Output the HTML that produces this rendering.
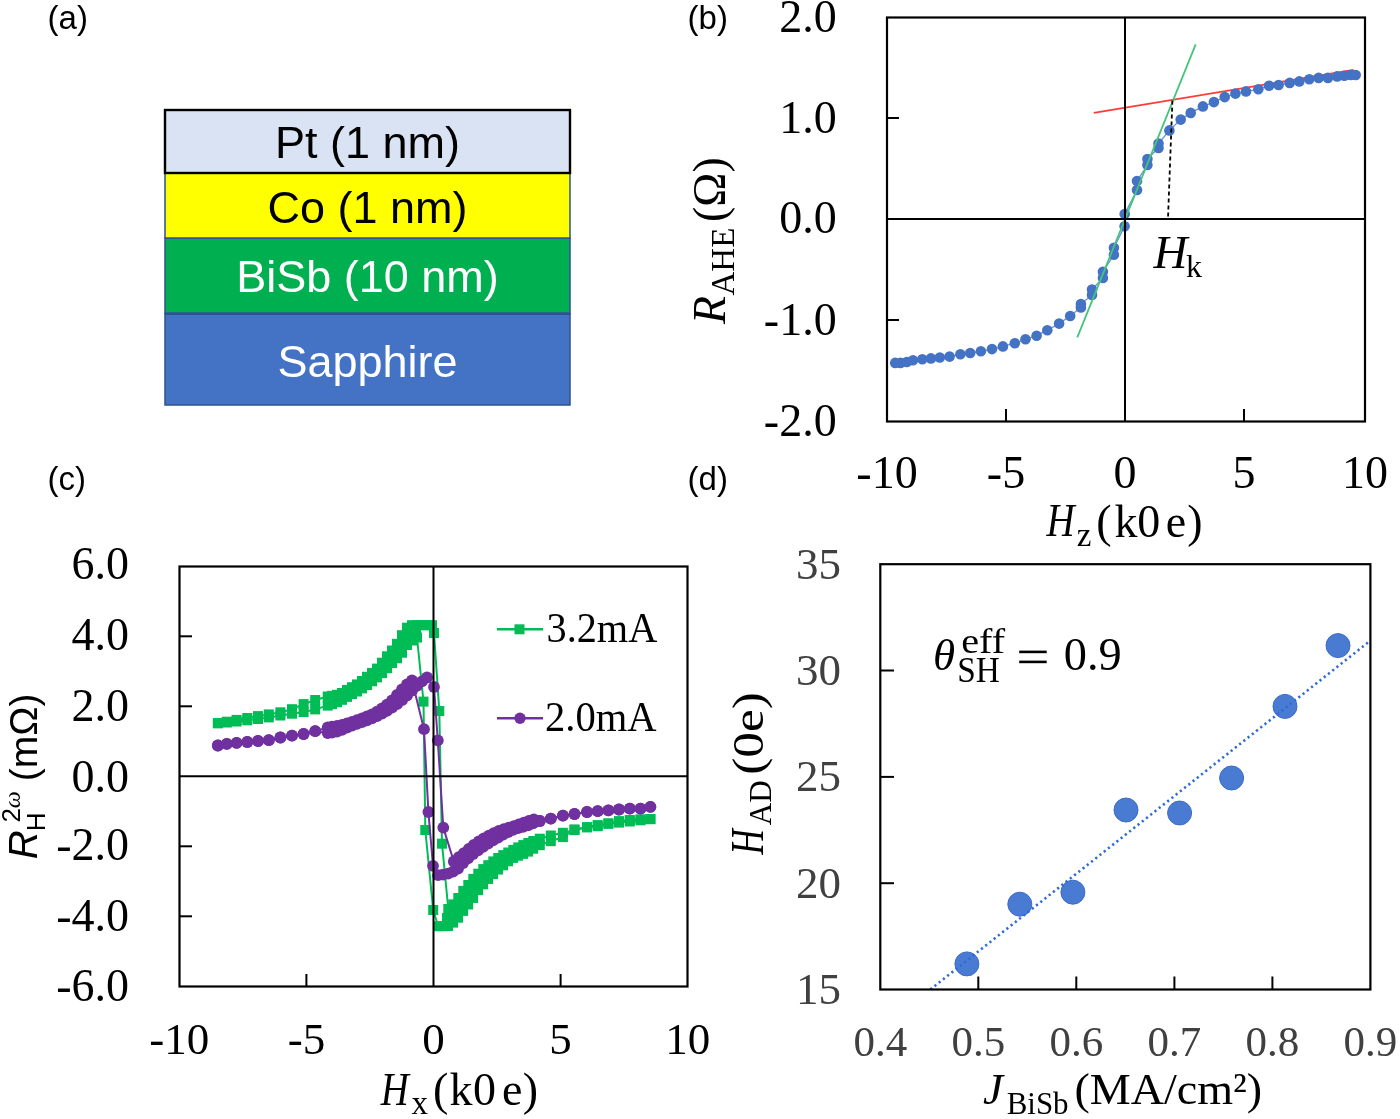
<!DOCTYPE html><html><head><meta charset="utf-8"><style>html,body{margin:0;padding:0;background:#fff;}svg{display:block;will-change:transform;font-family:"Liberation Serif",serif;}.ss{font-family:"Liberation Sans",sans-serif;}.sf{font-family:"Liberation Serif",serif;}</style></head><body>
<svg width="1400" height="1119" viewBox="0 0 1400 1119">
<rect width="1400" height="1119" fill="#fff"/>
<text class="ss" x="47.6" y="28.7" font-size="33" fill="#000">(a)</text>
<text class="ss" x="687.6" y="28.7" font-size="33" fill="#000">(b)</text>
<text class="ss" x="47.6" y="490.3" font-size="33" fill="#000">(c)</text>
<text class="ss" x="687.6" y="490.3" font-size="33" fill="#000">(d)</text>
<g>
<rect x="165" y="314" width="405" height="91" fill="#4472C4" stroke="#2F528F" stroke-width="1.5"/>
<rect x="165" y="238" width="405" height="76" fill="#00B050" stroke="#2F528F" stroke-width="1.5"/>
<rect x="165" y="173" width="405" height="65" fill="#FFFF00" stroke="#2F528F" stroke-width="1.5"/>
<line x1="165" y1="313.5" x2="570" y2="313.5" stroke="#2F528F" stroke-width="2.6"/>
<rect x="165" y="110" width="405" height="63" fill="#DAE3F3" stroke="#000" stroke-width="2.4"/>
<g class="ss" font-size="45" text-anchor="middle">
<text x="367.5" y="158.2" fill="#000">Pt (1 nm)</text>
<text x="367.5" y="222.6" fill="#000">Co (1 nm)</text>
<text x="367.5" y="291.5" fill="#fff">BiSb (10 nm)</text>
<text x="367.5" y="376.6" fill="#fff">Sapphire</text>
</g></g>
<g>
<line x1="1093.8" y1="112.8" x2="1353.6" y2="70" stroke="#FF3B3B" stroke-width="1.8"/>
<polyline points="895.2,362.9 900.5,362.9 906.8,362 913,360.2 922.3,359.3 930.9,358.4 939.8,357.5 949.6,356.6 960.4,354.3 970.2,353 980.9,351.3 992,349.1 1002.9,346.4 1014.8,343.2 1025.5,339.3 1036.6,335.7 1047.3,330.2 1059.1,323.6 1070.2,316 1080.9,307.5 1080.9,304 1092,295 1092,289.6 1102.9,278 1102.9,271.8 1113.9,254.8 1113.9,247.7 1124.6,226.3 1124.7,214 1137,190 1137,181 1147.4,165 1147.4,159 1158.5,148 1158.5,143.5 1169.4,130.4 1180.7,119.6 1190.7,112.9 1202.9,106.4 1213.9,102.1 1224.7,97.1 1235.4,93.6 1246,91.4 1258.3,89.3 1269,85.7 1278.6,85 1289.7,82.9 1299.3,81.4 1309.3,79.3 1318.6,77.9 1327.9,77.9 1337.1,76.4 1344.3,75.7 1350.7,75 1355.7,75" fill="none" stroke="#6b8fd6" stroke-width="1.3"/>
<circle cx="895.2" cy="362.9" r="5.3" fill="#4472C4"/>
<circle cx="900.5" cy="362.9" r="5.3" fill="#4472C4"/>
<circle cx="906.8" cy="362" r="5.3" fill="#4472C4"/>
<circle cx="913" cy="360.2" r="5.3" fill="#4472C4"/>
<circle cx="922.3" cy="359.3" r="5.3" fill="#4472C4"/>
<circle cx="930.9" cy="358.4" r="5.3" fill="#4472C4"/>
<circle cx="939.8" cy="357.5" r="5.3" fill="#4472C4"/>
<circle cx="949.6" cy="356.6" r="5.3" fill="#4472C4"/>
<circle cx="960.4" cy="354.3" r="5.3" fill="#4472C4"/>
<circle cx="970.2" cy="353" r="5.3" fill="#4472C4"/>
<circle cx="980.9" cy="351.3" r="5.3" fill="#4472C4"/>
<circle cx="992" cy="349.1" r="5.3" fill="#4472C4"/>
<circle cx="1002.9" cy="346.4" r="5.3" fill="#4472C4"/>
<circle cx="1014.8" cy="343.2" r="5.3" fill="#4472C4"/>
<circle cx="1025.5" cy="339.3" r="5.3" fill="#4472C4"/>
<circle cx="1036.6" cy="335.7" r="5.3" fill="#4472C4"/>
<circle cx="1047.3" cy="330.2" r="5.3" fill="#4472C4"/>
<circle cx="1059.1" cy="323.6" r="5.3" fill="#4472C4"/>
<circle cx="1070.2" cy="316" r="5.3" fill="#4472C4"/>
<circle cx="1080.9" cy="307.5" r="5.3" fill="#4472C4"/>
<circle cx="1080.9" cy="304" r="5.3" fill="#4472C4"/>
<circle cx="1092" cy="295" r="5.3" fill="#4472C4"/>
<circle cx="1092" cy="289.6" r="5.3" fill="#4472C4"/>
<circle cx="1102.9" cy="278" r="5.3" fill="#4472C4"/>
<circle cx="1102.9" cy="271.8" r="5.3" fill="#4472C4"/>
<circle cx="1113.9" cy="254.8" r="5.3" fill="#4472C4"/>
<circle cx="1113.9" cy="247.7" r="5.3" fill="#4472C4"/>
<circle cx="1124.6" cy="226.3" r="5.3" fill="#4472C4"/>
<circle cx="1124.7" cy="214" r="5.3" fill="#4472C4"/>
<circle cx="1137" cy="190" r="5.3" fill="#4472C4"/>
<circle cx="1137" cy="181" r="5.3" fill="#4472C4"/>
<circle cx="1147.4" cy="165" r="5.3" fill="#4472C4"/>
<circle cx="1147.4" cy="159" r="5.3" fill="#4472C4"/>
<circle cx="1158.5" cy="148" r="5.3" fill="#4472C4"/>
<circle cx="1158.5" cy="143.5" r="5.3" fill="#4472C4"/>
<circle cx="1169.4" cy="130.4" r="5.3" fill="#4472C4"/>
<circle cx="1180.7" cy="119.6" r="5.3" fill="#4472C4"/>
<circle cx="1190.7" cy="112.9" r="5.3" fill="#4472C4"/>
<circle cx="1202.9" cy="106.4" r="5.3" fill="#4472C4"/>
<circle cx="1213.9" cy="102.1" r="5.3" fill="#4472C4"/>
<circle cx="1224.7" cy="97.1" r="5.3" fill="#4472C4"/>
<circle cx="1235.4" cy="93.6" r="5.3" fill="#4472C4"/>
<circle cx="1246" cy="91.4" r="5.3" fill="#4472C4"/>
<circle cx="1258.3" cy="89.3" r="5.3" fill="#4472C4"/>
<circle cx="1269" cy="85.7" r="5.3" fill="#4472C4"/>
<circle cx="1278.6" cy="85" r="5.3" fill="#4472C4"/>
<circle cx="1289.7" cy="82.9" r="5.3" fill="#4472C4"/>
<circle cx="1299.3" cy="81.4" r="5.3" fill="#4472C4"/>
<circle cx="1309.3" cy="79.3" r="5.3" fill="#4472C4"/>
<circle cx="1318.6" cy="77.9" r="5.3" fill="#4472C4"/>
<circle cx="1327.9" cy="77.9" r="5.3" fill="#4472C4"/>
<circle cx="1337.1" cy="76.4" r="5.3" fill="#4472C4"/>
<circle cx="1344.3" cy="75.7" r="5.3" fill="#4472C4"/>
<circle cx="1350.7" cy="75" r="5.3" fill="#4472C4"/>
<circle cx="1355.7" cy="75" r="5.3" fill="#4472C4"/>
<line x1="1077.3" y1="337.3" x2="1195.7" y2="44.3" stroke="#44C57A" stroke-width="1.8"/>
<line x1="1172.4" y1="100.6" x2="1168" y2="218.6" stroke="#000" stroke-width="1.8" stroke-dasharray="4,3"/>
<rect x="887" y="17.5" width="478" height="404" fill="none" stroke="#000" stroke-width="2.2"/>
<line x1="1125" y1="17.5" x2="1125" y2="421.5" stroke="#000" stroke-width="2"/>
<line x1="887" y1="219" x2="1365" y2="219" stroke="#000" stroke-width="2"/>
<line x1="887" y1="118" x2="899" y2="118" stroke="#000" stroke-width="2"/>
<line x1="887" y1="320" x2="899" y2="320" stroke="#000" stroke-width="2"/>
<line x1="1006" y1="421.5" x2="1006" y2="409" stroke="#000" stroke-width="2"/>
<line x1="1244" y1="421.5" x2="1244" y2="409" stroke="#000" stroke-width="2"/>
<g class="sf" font-size="46" fill="#000">
<text x="836.7" y="31.7" text-anchor="end">2.0</text>
<text x="836.7" y="133.2" text-anchor="end">1.0</text>
<text x="836.7" y="233" text-anchor="end">0.0</text>
<text x="836.7" y="334.8" text-anchor="end">-1.0</text>
<text x="836.7" y="436" text-anchor="end">-2.0</text>
<text x="887" y="488" text-anchor="middle">-10</text>
<text x="1006" y="488" text-anchor="middle">-5</text>
<text x="1125" y="488" text-anchor="middle">0</text>
<text x="1244" y="488" text-anchor="middle">5</text>
<text x="1365" y="488" text-anchor="middle">10</text>
<text x="1046.4" y="536.0" font-size="46" font-style="italic" textLength="28.1" lengthAdjust="spacingAndGlyphs">H</text>
<text x="1076.7" y="545.5" font-size="33">z</text>
<text x="1096.3" y="536.5" font-size="46">(</text>
<text x="1114.4" y="536.5" font-size="46">k</text>
<text x="1137.2" y="536.5" font-size="46">0</text>
<text x="1165.7" y="536.5" font-size="46">e</text>
<text x="1187.3" y="536.5" font-size="46">)</text>
<text x="1153.4" y="267.6" font-style="italic" font-size="47">H</text>
<text x="1186" y="277.3" font-size="32">k</text>
<g transform="translate(725,324) rotate(-90)">
<text x="0" y="0" font-style="italic">R</text>
<text x="28.5" y="9" font-size="33">AHE</text>
<text x="102" y="0">(&#937;)</text>
</g>
</g></g>
<g>
<polyline points="217.9,723.2 226.8,721.7 236.6,719.9 247.3,718 258,716.1 268.8,714.4 280.4,712.3 292,709.2 303.6,704.1 315.2,700 327.7,696.5 332,695.8 337,694.8 342,693 347,689.9 352,687.2 357,684.4 362,681 367,676.8 372,672.9 377,668.6 382,662.7 387,656.3 392,650.5 397,643.8 402,635.2 407,627.7 412,625.2 417,625.2 422,625.2 427,625.2 432,625.2 434,633 439.3,711 442,843.7 448.3,909 453.3,904.4 458.3,898 463.3,890.9 468.3,885 473.3,878.9 478.3,873.7 483.3,869.1 488.3,865.2 493.3,861.4 498.3,858 503.3,855.1 508.3,852.5 513.3,849.9 518.3,847.4 523.3,845.1 528.3,843 533.3,841 539.8,838.7 550.8,835.5 562.9,832.8 574.5,830.1 587,827.2 597.7,825.1 608.4,823.8 619,822.6 629.8,821.5 640.5,820.3 650.4,819.2" fill="none" stroke="#00BC55" stroke-width="2" stroke-linejoin="round"/>
<polyline points="217.9,723.2 226.8,722.5 236.6,721.5 247.3,720.3 258,719 268.8,717.4 280.4,715.5 292,713.7 303.6,712 315.2,709.4 327.7,705.6 332,704.1 337,702.2 342,699.8 347,696.9 352,694.1 357,691.5 362,688.4 367,685 372,681.3 377,677.4 382,673.1 387,668.2 392,663.1 397,658.3 402,652.7 407,645 412,640.5 417,637.5 423.5,701.6 425.3,830 433.2,910 438.1,926.2 443.1,926.2 448.1,926 453.1,922.6 458.1,917.7 463.1,910.9 468.1,904.5 473.1,898 478.1,890.1 483.1,884.3 488.1,879 493.1,874.1 498.1,869.5 503.1,865.3 508.1,861.3 513.1,857.9 518.1,855.7 523.1,853.9 528.1,851.6 533.1,848.7 539.8,845.2 550.8,841.2 562.9,837.1 574.5,829.4 587,827.3 597.7,826.2 608.4,823.3 619,821.1 629.8,820 640.5,819.3 650.4,819" fill="none" stroke="#00BC55" stroke-width="2" stroke-linejoin="round"/>
<rect x="212.9" y="718.2" width="10" height="10" fill="#00BC55"/>
<rect x="221.8" y="716.7" width="10" height="10" fill="#00BC55"/>
<rect x="231.6" y="714.9" width="10" height="10" fill="#00BC55"/>
<rect x="242.3" y="713" width="10" height="10" fill="#00BC55"/>
<rect x="253" y="711.1" width="10" height="10" fill="#00BC55"/>
<rect x="263.8" y="709.4" width="10" height="10" fill="#00BC55"/>
<rect x="275.4" y="707.3" width="10" height="10" fill="#00BC55"/>
<rect x="287" y="704.2" width="10" height="10" fill="#00BC55"/>
<rect x="298.6" y="699.1" width="10" height="10" fill="#00BC55"/>
<rect x="310.2" y="695" width="10" height="10" fill="#00BC55"/>
<rect x="322.7" y="691.5" width="10" height="10" fill="#00BC55"/>
<rect x="327" y="690.8" width="10" height="10" fill="#00BC55"/>
<rect x="332" y="689.8" width="10" height="10" fill="#00BC55"/>
<rect x="337" y="688" width="10" height="10" fill="#00BC55"/>
<rect x="342" y="684.9" width="10" height="10" fill="#00BC55"/>
<rect x="347" y="682.2" width="10" height="10" fill="#00BC55"/>
<rect x="352" y="679.4" width="10" height="10" fill="#00BC55"/>
<rect x="357" y="676" width="10" height="10" fill="#00BC55"/>
<rect x="362" y="671.8" width="10" height="10" fill="#00BC55"/>
<rect x="367" y="667.9" width="10" height="10" fill="#00BC55"/>
<rect x="372" y="663.6" width="10" height="10" fill="#00BC55"/>
<rect x="377" y="657.7" width="10" height="10" fill="#00BC55"/>
<rect x="382" y="651.3" width="10" height="10" fill="#00BC55"/>
<rect x="387" y="645.5" width="10" height="10" fill="#00BC55"/>
<rect x="392" y="638.8" width="10" height="10" fill="#00BC55"/>
<rect x="397" y="630.2" width="10" height="10" fill="#00BC55"/>
<rect x="402" y="622.7" width="10" height="10" fill="#00BC55"/>
<rect x="407" y="620.2" width="10" height="10" fill="#00BC55"/>
<rect x="412" y="620.2" width="10" height="10" fill="#00BC55"/>
<rect x="417" y="620.2" width="10" height="10" fill="#00BC55"/>
<rect x="422" y="620.2" width="10" height="10" fill="#00BC55"/>
<rect x="427" y="620.2" width="10" height="10" fill="#00BC55"/>
<rect x="429" y="628" width="10" height="10" fill="#00BC55"/>
<rect x="434.3" y="706" width="10" height="10" fill="#00BC55"/>
<rect x="437" y="838.7" width="10" height="10" fill="#00BC55"/>
<rect x="443.3" y="904" width="10" height="10" fill="#00BC55"/>
<rect x="448.3" y="899.4" width="10" height="10" fill="#00BC55"/>
<rect x="453.3" y="893" width="10" height="10" fill="#00BC55"/>
<rect x="458.3" y="885.9" width="10" height="10" fill="#00BC55"/>
<rect x="463.3" y="880" width="10" height="10" fill="#00BC55"/>
<rect x="468.3" y="873.9" width="10" height="10" fill="#00BC55"/>
<rect x="473.3" y="868.7" width="10" height="10" fill="#00BC55"/>
<rect x="478.3" y="864.1" width="10" height="10" fill="#00BC55"/>
<rect x="483.3" y="860.2" width="10" height="10" fill="#00BC55"/>
<rect x="488.3" y="856.4" width="10" height="10" fill="#00BC55"/>
<rect x="493.3" y="853" width="10" height="10" fill="#00BC55"/>
<rect x="498.3" y="850.1" width="10" height="10" fill="#00BC55"/>
<rect x="503.3" y="847.5" width="10" height="10" fill="#00BC55"/>
<rect x="508.3" y="844.9" width="10" height="10" fill="#00BC55"/>
<rect x="513.3" y="842.4" width="10" height="10" fill="#00BC55"/>
<rect x="518.3" y="840.1" width="10" height="10" fill="#00BC55"/>
<rect x="523.3" y="838" width="10" height="10" fill="#00BC55"/>
<rect x="528.3" y="836" width="10" height="10" fill="#00BC55"/>
<rect x="534.8" y="833.7" width="10" height="10" fill="#00BC55"/>
<rect x="545.8" y="830.5" width="10" height="10" fill="#00BC55"/>
<rect x="557.9" y="827.8" width="10" height="10" fill="#00BC55"/>
<rect x="569.5" y="825.1" width="10" height="10" fill="#00BC55"/>
<rect x="582" y="822.2" width="10" height="10" fill="#00BC55"/>
<rect x="592.7" y="820.1" width="10" height="10" fill="#00BC55"/>
<rect x="603.4" y="818.8" width="10" height="10" fill="#00BC55"/>
<rect x="614" y="817.6" width="10" height="10" fill="#00BC55"/>
<rect x="624.8" y="816.5" width="10" height="10" fill="#00BC55"/>
<rect x="635.5" y="815.3" width="10" height="10" fill="#00BC55"/>
<rect x="645.4" y="814.2" width="10" height="10" fill="#00BC55"/>
<rect x="212.9" y="718.2" width="10" height="10" fill="#00BC55"/>
<rect x="221.8" y="717.5" width="10" height="10" fill="#00BC55"/>
<rect x="231.6" y="716.5" width="10" height="10" fill="#00BC55"/>
<rect x="242.3" y="715.3" width="10" height="10" fill="#00BC55"/>
<rect x="253" y="714" width="10" height="10" fill="#00BC55"/>
<rect x="263.8" y="712.4" width="10" height="10" fill="#00BC55"/>
<rect x="275.4" y="710.5" width="10" height="10" fill="#00BC55"/>
<rect x="287" y="708.7" width="10" height="10" fill="#00BC55"/>
<rect x="298.6" y="707" width="10" height="10" fill="#00BC55"/>
<rect x="310.2" y="704.4" width="10" height="10" fill="#00BC55"/>
<rect x="322.7" y="700.6" width="10" height="10" fill="#00BC55"/>
<rect x="327" y="699.1" width="10" height="10" fill="#00BC55"/>
<rect x="332" y="697.2" width="10" height="10" fill="#00BC55"/>
<rect x="337" y="694.8" width="10" height="10" fill="#00BC55"/>
<rect x="342" y="691.9" width="10" height="10" fill="#00BC55"/>
<rect x="347" y="689.1" width="10" height="10" fill="#00BC55"/>
<rect x="352" y="686.5" width="10" height="10" fill="#00BC55"/>
<rect x="357" y="683.4" width="10" height="10" fill="#00BC55"/>
<rect x="362" y="680" width="10" height="10" fill="#00BC55"/>
<rect x="367" y="676.3" width="10" height="10" fill="#00BC55"/>
<rect x="372" y="672.4" width="10" height="10" fill="#00BC55"/>
<rect x="377" y="668.1" width="10" height="10" fill="#00BC55"/>
<rect x="382" y="663.2" width="10" height="10" fill="#00BC55"/>
<rect x="387" y="658.1" width="10" height="10" fill="#00BC55"/>
<rect x="392" y="653.3" width="10" height="10" fill="#00BC55"/>
<rect x="397" y="647.7" width="10" height="10" fill="#00BC55"/>
<rect x="402" y="640" width="10" height="10" fill="#00BC55"/>
<rect x="407" y="635.5" width="10" height="10" fill="#00BC55"/>
<rect x="412" y="632.5" width="10" height="10" fill="#00BC55"/>
<rect x="418.5" y="696.6" width="10" height="10" fill="#00BC55"/>
<rect x="420.3" y="825" width="10" height="10" fill="#00BC55"/>
<rect x="428.2" y="905" width="10" height="10" fill="#00BC55"/>
<rect x="433.1" y="921.2" width="10" height="10" fill="#00BC55"/>
<rect x="438.1" y="921.2" width="10" height="10" fill="#00BC55"/>
<rect x="443.1" y="921" width="10" height="10" fill="#00BC55"/>
<rect x="448.1" y="917.6" width="10" height="10" fill="#00BC55"/>
<rect x="453.1" y="912.7" width="10" height="10" fill="#00BC55"/>
<rect x="458.1" y="905.9" width="10" height="10" fill="#00BC55"/>
<rect x="463.1" y="899.5" width="10" height="10" fill="#00BC55"/>
<rect x="468.1" y="893" width="10" height="10" fill="#00BC55"/>
<rect x="473.1" y="885.1" width="10" height="10" fill="#00BC55"/>
<rect x="478.1" y="879.3" width="10" height="10" fill="#00BC55"/>
<rect x="483.1" y="874" width="10" height="10" fill="#00BC55"/>
<rect x="488.1" y="869.1" width="10" height="10" fill="#00BC55"/>
<rect x="493.1" y="864.5" width="10" height="10" fill="#00BC55"/>
<rect x="498.1" y="860.3" width="10" height="10" fill="#00BC55"/>
<rect x="503.1" y="856.3" width="10" height="10" fill="#00BC55"/>
<rect x="508.1" y="852.9" width="10" height="10" fill="#00BC55"/>
<rect x="513.1" y="850.7" width="10" height="10" fill="#00BC55"/>
<rect x="518.1" y="848.9" width="10" height="10" fill="#00BC55"/>
<rect x="523.1" y="846.6" width="10" height="10" fill="#00BC55"/>
<rect x="528.1" y="843.7" width="10" height="10" fill="#00BC55"/>
<rect x="534.8" y="840.2" width="10" height="10" fill="#00BC55"/>
<rect x="545.8" y="836.2" width="10" height="10" fill="#00BC55"/>
<rect x="557.9" y="832.1" width="10" height="10" fill="#00BC55"/>
<rect x="569.5" y="824.4" width="10" height="10" fill="#00BC55"/>
<rect x="582" y="822.3" width="10" height="10" fill="#00BC55"/>
<rect x="592.7" y="821.2" width="10" height="10" fill="#00BC55"/>
<rect x="603.4" y="818.3" width="10" height="10" fill="#00BC55"/>
<rect x="614" y="816.1" width="10" height="10" fill="#00BC55"/>
<rect x="624.8" y="815" width="10" height="10" fill="#00BC55"/>
<rect x="635.5" y="814.3" width="10" height="10" fill="#00BC55"/>
<rect x="645.4" y="814" width="10" height="10" fill="#00BC55"/>
<rect x="381" y="658.4" width="10" height="10" fill="#00BC55"/>
<rect x="386" y="652.9" width="10" height="10" fill="#00BC55"/>
<rect x="391" y="647.3" width="10" height="10" fill="#00BC55"/>
<rect x="396" y="640.5" width="10" height="10" fill="#00BC55"/>
<rect x="401" y="632.8" width="10" height="10" fill="#00BC55"/>
<rect x="406" y="628.2" width="10" height="10" fill="#00BC55"/>
<rect x="411" y="626.6" width="10" height="10" fill="#00BC55"/>
<rect x="442" y="913" width="10" height="10" fill="#00BC55"/>
<rect x="447" y="909.7" width="10" height="10" fill="#00BC55"/>
<rect x="452" y="904.4" width="10" height="10" fill="#00BC55"/>
<rect x="457" y="897.6" width="10" height="10" fill="#00BC55"/>
<rect x="462" y="891" width="10" height="10" fill="#00BC55"/>
<rect x="467" y="885.1" width="10" height="10" fill="#00BC55"/>
<rect x="472" y="878.3" width="10" height="10" fill="#00BC55"/>
<rect x="477" y="872.9" width="10" height="10" fill="#00BC55"/>
<rect x="482" y="868.2" width="10" height="10" fill="#00BC55"/>
<rect x="487" y="863.8" width="10" height="10" fill="#00BC55"/>
<rect x="492" y="859.7" width="10" height="10" fill="#00BC55"/>
<polyline points="217.9,745.5 226.8,743.8 236.6,742.9 247.3,742 258,741 268.8,740.2 280.4,737.5 292,735.7 303.6,734 315.2,731.2 327.7,727.5 332,726.7 337,726 342,724.9 347,723.5 352,721.9 357,720.2 362,718.4 367,716.5 372,714.3 377,711.6 382,708.3 387,704.6 392,700.3 397,694.9 402,689.3 407,684.5 412,680.5 424,729.2 428.4,812 433,865.8 438.1,875.2 443.1,874.7 448.1,873.7 453.1,871.7 458.1,868.5 463.1,863.1 468.1,858.3 473.1,854.1 478.1,850.3 483.1,846.8 488.1,843.5 493.1,840.4 498.1,837.5 503.1,834.7 508.1,832.1 513.1,829.8 518.1,828.2 523.1,826.9 528.1,825.3 533.1,823.3 539.8,821 550.8,818.6 562.9,815.7 574.5,814 587,812 597.7,811.2 608.4,810.4 619,809.5 629.8,808.6 640.5,808.6 650.4,806.8" fill="none" stroke="#7030A0" stroke-width="2" stroke-linejoin="round"/>
<polyline points="217.9,745.5 226.8,743.8 236.6,742.9 247.3,742 258,741 268.8,740.2 280.4,737.5 292,735.7 303.6,734 315.2,731.2 327.7,733 332,732.6 337,731.5 342,729.9 347,727.7 352,725.6 357,723.9 362,722.2 367,720.4 372,718.4 377,716.1 382,713.5 387,710.8 392,707.7 397,704.2 402,700.2 407,695.6 412,690.7 417,685.8 422,681.3 427,677.5 434,687 437.8,740.4 443.3,827.6 453.8,861.5 458.8,857.2 463.8,853.1 468.8,848.8 473.8,844.8 478.8,841.4 483.8,838.4 488.8,835.7 493.8,833.2 498.8,830.9 503.8,829.1 508.8,827.6 513.8,826.2 518.8,824.5 523.8,822.7 528.8,821 533.8,819.5 539.8,821 550.8,818.6 562.9,815.7 574.5,814 587,812 597.7,811.2 608.4,810.4 619,809.5 629.8,808.6 640.5,808.6 650.4,806.8" fill="none" stroke="#7030A0" stroke-width="2" stroke-linejoin="round"/>
<circle cx="217.9" cy="745.5" r="5.9" fill="#7030A0"/>
<circle cx="226.8" cy="743.8" r="5.9" fill="#7030A0"/>
<circle cx="236.6" cy="742.9" r="5.9" fill="#7030A0"/>
<circle cx="247.3" cy="742" r="5.9" fill="#7030A0"/>
<circle cx="258" cy="741" r="5.9" fill="#7030A0"/>
<circle cx="268.8" cy="740.2" r="5.9" fill="#7030A0"/>
<circle cx="280.4" cy="737.5" r="5.9" fill="#7030A0"/>
<circle cx="292" cy="735.7" r="5.9" fill="#7030A0"/>
<circle cx="303.6" cy="734" r="5.9" fill="#7030A0"/>
<circle cx="315.2" cy="731.2" r="5.9" fill="#7030A0"/>
<circle cx="327.7" cy="727.5" r="5.9" fill="#7030A0"/>
<circle cx="332" cy="726.7" r="5.9" fill="#7030A0"/>
<circle cx="337" cy="726" r="5.9" fill="#7030A0"/>
<circle cx="342" cy="724.9" r="5.9" fill="#7030A0"/>
<circle cx="347" cy="723.5" r="5.9" fill="#7030A0"/>
<circle cx="352" cy="721.9" r="5.9" fill="#7030A0"/>
<circle cx="357" cy="720.2" r="5.9" fill="#7030A0"/>
<circle cx="362" cy="718.4" r="5.9" fill="#7030A0"/>
<circle cx="367" cy="716.5" r="5.9" fill="#7030A0"/>
<circle cx="372" cy="714.3" r="5.9" fill="#7030A0"/>
<circle cx="377" cy="711.6" r="5.9" fill="#7030A0"/>
<circle cx="382" cy="708.3" r="5.9" fill="#7030A0"/>
<circle cx="387" cy="704.6" r="5.9" fill="#7030A0"/>
<circle cx="392" cy="700.3" r="5.9" fill="#7030A0"/>
<circle cx="397" cy="694.9" r="5.9" fill="#7030A0"/>
<circle cx="402" cy="689.3" r="5.9" fill="#7030A0"/>
<circle cx="407" cy="684.5" r="5.9" fill="#7030A0"/>
<circle cx="412" cy="680.5" r="5.9" fill="#7030A0"/>
<circle cx="424" cy="729.2" r="5.9" fill="#7030A0"/>
<circle cx="428.4" cy="812" r="5.9" fill="#7030A0"/>
<circle cx="433" cy="865.8" r="5.9" fill="#7030A0"/>
<circle cx="438.1" cy="875.2" r="5.9" fill="#7030A0"/>
<circle cx="443.1" cy="874.7" r="5.9" fill="#7030A0"/>
<circle cx="448.1" cy="873.7" r="5.9" fill="#7030A0"/>
<circle cx="453.1" cy="871.7" r="5.9" fill="#7030A0"/>
<circle cx="458.1" cy="868.5" r="5.9" fill="#7030A0"/>
<circle cx="463.1" cy="863.1" r="5.9" fill="#7030A0"/>
<circle cx="468.1" cy="858.3" r="5.9" fill="#7030A0"/>
<circle cx="473.1" cy="854.1" r="5.9" fill="#7030A0"/>
<circle cx="478.1" cy="850.3" r="5.9" fill="#7030A0"/>
<circle cx="483.1" cy="846.8" r="5.9" fill="#7030A0"/>
<circle cx="488.1" cy="843.5" r="5.9" fill="#7030A0"/>
<circle cx="493.1" cy="840.4" r="5.9" fill="#7030A0"/>
<circle cx="498.1" cy="837.5" r="5.9" fill="#7030A0"/>
<circle cx="503.1" cy="834.7" r="5.9" fill="#7030A0"/>
<circle cx="508.1" cy="832.1" r="5.9" fill="#7030A0"/>
<circle cx="513.1" cy="829.8" r="5.9" fill="#7030A0"/>
<circle cx="518.1" cy="828.2" r="5.9" fill="#7030A0"/>
<circle cx="523.1" cy="826.9" r="5.9" fill="#7030A0"/>
<circle cx="528.1" cy="825.3" r="5.9" fill="#7030A0"/>
<circle cx="533.1" cy="823.3" r="5.9" fill="#7030A0"/>
<circle cx="539.8" cy="821" r="5.9" fill="#7030A0"/>
<circle cx="550.8" cy="818.6" r="5.9" fill="#7030A0"/>
<circle cx="562.9" cy="815.7" r="5.9" fill="#7030A0"/>
<circle cx="574.5" cy="814" r="5.9" fill="#7030A0"/>
<circle cx="587" cy="812" r="5.9" fill="#7030A0"/>
<circle cx="597.7" cy="811.2" r="5.9" fill="#7030A0"/>
<circle cx="608.4" cy="810.4" r="5.9" fill="#7030A0"/>
<circle cx="619" cy="809.5" r="5.9" fill="#7030A0"/>
<circle cx="629.8" cy="808.6" r="5.9" fill="#7030A0"/>
<circle cx="640.5" cy="808.6" r="5.9" fill="#7030A0"/>
<circle cx="650.4" cy="806.8" r="5.9" fill="#7030A0"/>
<circle cx="217.9" cy="745.5" r="5.9" fill="#7030A0"/>
<circle cx="226.8" cy="743.8" r="5.9" fill="#7030A0"/>
<circle cx="236.6" cy="742.9" r="5.9" fill="#7030A0"/>
<circle cx="247.3" cy="742" r="5.9" fill="#7030A0"/>
<circle cx="258" cy="741" r="5.9" fill="#7030A0"/>
<circle cx="268.8" cy="740.2" r="5.9" fill="#7030A0"/>
<circle cx="280.4" cy="737.5" r="5.9" fill="#7030A0"/>
<circle cx="292" cy="735.7" r="5.9" fill="#7030A0"/>
<circle cx="303.6" cy="734" r="5.9" fill="#7030A0"/>
<circle cx="315.2" cy="731.2" r="5.9" fill="#7030A0"/>
<circle cx="327.7" cy="733" r="5.9" fill="#7030A0"/>
<circle cx="332" cy="732.6" r="5.9" fill="#7030A0"/>
<circle cx="337" cy="731.5" r="5.9" fill="#7030A0"/>
<circle cx="342" cy="729.9" r="5.9" fill="#7030A0"/>
<circle cx="347" cy="727.7" r="5.9" fill="#7030A0"/>
<circle cx="352" cy="725.6" r="5.9" fill="#7030A0"/>
<circle cx="357" cy="723.9" r="5.9" fill="#7030A0"/>
<circle cx="362" cy="722.2" r="5.9" fill="#7030A0"/>
<circle cx="367" cy="720.4" r="5.9" fill="#7030A0"/>
<circle cx="372" cy="718.4" r="5.9" fill="#7030A0"/>
<circle cx="377" cy="716.1" r="5.9" fill="#7030A0"/>
<circle cx="382" cy="713.5" r="5.9" fill="#7030A0"/>
<circle cx="387" cy="710.8" r="5.9" fill="#7030A0"/>
<circle cx="392" cy="707.7" r="5.9" fill="#7030A0"/>
<circle cx="397" cy="704.2" r="5.9" fill="#7030A0"/>
<circle cx="402" cy="700.2" r="5.9" fill="#7030A0"/>
<circle cx="407" cy="695.6" r="5.9" fill="#7030A0"/>
<circle cx="412" cy="690.7" r="5.9" fill="#7030A0"/>
<circle cx="417" cy="685.8" r="5.9" fill="#7030A0"/>
<circle cx="422" cy="681.3" r="5.9" fill="#7030A0"/>
<circle cx="427" cy="677.5" r="5.9" fill="#7030A0"/>
<circle cx="434" cy="687" r="5.9" fill="#7030A0"/>
<circle cx="437.8" cy="740.4" r="5.9" fill="#7030A0"/>
<circle cx="443.3" cy="827.6" r="5.9" fill="#7030A0"/>
<circle cx="453.8" cy="861.5" r="5.9" fill="#7030A0"/>
<circle cx="458.8" cy="857.2" r="5.9" fill="#7030A0"/>
<circle cx="463.8" cy="853.1" r="5.9" fill="#7030A0"/>
<circle cx="468.8" cy="848.8" r="5.9" fill="#7030A0"/>
<circle cx="473.8" cy="844.8" r="5.9" fill="#7030A0"/>
<circle cx="478.8" cy="841.4" r="5.9" fill="#7030A0"/>
<circle cx="483.8" cy="838.4" r="5.9" fill="#7030A0"/>
<circle cx="488.8" cy="835.7" r="5.9" fill="#7030A0"/>
<circle cx="493.8" cy="833.2" r="5.9" fill="#7030A0"/>
<circle cx="498.8" cy="830.9" r="5.9" fill="#7030A0"/>
<circle cx="503.8" cy="829.1" r="5.9" fill="#7030A0"/>
<circle cx="508.8" cy="827.6" r="5.9" fill="#7030A0"/>
<circle cx="513.8" cy="826.2" r="5.9" fill="#7030A0"/>
<circle cx="518.8" cy="824.5" r="5.9" fill="#7030A0"/>
<circle cx="523.8" cy="822.7" r="5.9" fill="#7030A0"/>
<circle cx="528.8" cy="821" r="5.9" fill="#7030A0"/>
<circle cx="533.8" cy="819.5" r="5.9" fill="#7030A0"/>
<circle cx="539.8" cy="821" r="5.9" fill="#7030A0"/>
<circle cx="550.8" cy="818.6" r="5.9" fill="#7030A0"/>
<circle cx="562.9" cy="815.7" r="5.9" fill="#7030A0"/>
<circle cx="574.5" cy="814" r="5.9" fill="#7030A0"/>
<circle cx="587" cy="812" r="5.9" fill="#7030A0"/>
<circle cx="597.7" cy="811.2" r="5.9" fill="#7030A0"/>
<circle cx="608.4" cy="810.4" r="5.9" fill="#7030A0"/>
<circle cx="619" cy="809.5" r="5.9" fill="#7030A0"/>
<circle cx="629.8" cy="808.6" r="5.9" fill="#7030A0"/>
<circle cx="640.5" cy="808.6" r="5.9" fill="#7030A0"/>
<circle cx="650.4" cy="806.8" r="5.9" fill="#7030A0"/>
<rect x="179.5" y="566.5" width="508" height="420" fill="none" stroke="#000" stroke-width="2.2"/>
<line x1="433.5" y1="566.5" x2="433.5" y2="986.5" stroke="#000" stroke-width="2"/>
<line x1="179.5" y1="776.3" x2="687.5" y2="776.3" stroke="#000" stroke-width="2"/>
<line x1="179.5" y1="636.3" x2="192" y2="636.3" stroke="#000" stroke-width="2"/>
<line x1="179.5" y1="706.3" x2="192" y2="706.3" stroke="#000" stroke-width="2"/>
<line x1="179.5" y1="846.3" x2="192" y2="846.3" stroke="#000" stroke-width="2"/>
<line x1="179.5" y1="916.3" x2="192" y2="916.3" stroke="#000" stroke-width="2"/>
<line x1="306.4" y1="986.5" x2="306.4" y2="974" stroke="#000" stroke-width="2"/>
<line x1="560.6" y1="986.5" x2="560.6" y2="974" stroke="#000" stroke-width="2"/>
<line x1="497" y1="629.3" x2="543" y2="629.3" stroke="#00BC55" stroke-width="2.6"/>
<rect x="514.5" y="624.3" width="10" height="10" fill="#00BC55"/>
<line x1="497" y1="718.3" x2="543" y2="718.3" stroke="#7030A0" stroke-width="2.6"/>
<circle cx="520" cy="718.3" r="5.7" fill="#7030A0"/>
<g class="sf" font-size="45" fill="#000">
<text x="546.5" y="642.0" font-size="43" textLength="110.7" lengthAdjust="spacingAndGlyphs">3.2mA</text>
<text x="545.1" y="730.7" font-size="43" textLength="111.5" lengthAdjust="spacingAndGlyphs">2.0mA</text>
<text x="129.1" y="579.1" text-anchor="end" font-size="46">6.0</text>
<text x="129.1" y="650.1" text-anchor="end" font-size="46">4.0</text>
<text x="129.1" y="721" text-anchor="end" font-size="46">2.0</text>
<text x="129.1" y="791.9" text-anchor="end" font-size="46">0.0</text>
<text x="129.1" y="860.4" text-anchor="end" font-size="46">-2.0</text>
<text x="129.1" y="930.9" text-anchor="end" font-size="46">-4.0</text>
<text x="129.1" y="1000.5" text-anchor="end" font-size="46">-6.0</text>
<text x="179.3" y="1054.3" text-anchor="middle">-10</text>
<text x="306.4" y="1054.3" text-anchor="middle">-5</text>
<text x="433.5" y="1054.3" text-anchor="middle">0</text>
<text x="560.6" y="1054.3" text-anchor="middle">5</text>
<text x="687.7" y="1054.3" text-anchor="middle">10</text>
<text x="380.8" y="1104.5" font-size="46" font-style="italic" textLength="28.0" lengthAdjust="spacingAndGlyphs">H</text>
<text x="411.5" y="1114.0" font-size="33">x</text>
<text x="432.9" y="1104.5" font-size="46">(</text>
<text x="449.4" y="1104.5" font-size="46">k</text>
<text x="473.0" y="1104.5" font-size="46">0</text>
<text x="501.9" y="1104.5" font-size="46">e</text>
<text x="522.7" y="1104.5" font-size="46">)</text>
</g>
<g transform="translate(36.6,859.2) rotate(-90)" class="ss">
<text x="0" y="0" font-size="40" font-style="italic">R</text>
<text x="28" y="8" font-size="26">H</text>
<text x="36.6" y="-17" font-size="26">2</text>
<text x="51" y="-17" font-size="24" class="sf" font-style="italic">&#969;</text>
<text x="78" y="0" font-size="39">(m&#937;)</text>
</g>
</g>
<g>
<circle cx="966.9" cy="963.9" r="12" fill="#4A7BD3" stroke="#3D6CC6" stroke-width="1"/>
<circle cx="1019.8" cy="904.2" r="12" fill="#4A7BD3" stroke="#3D6CC6" stroke-width="1"/>
<circle cx="1072.9" cy="892.2" r="12" fill="#4A7BD3" stroke="#3D6CC6" stroke-width="1"/>
<circle cx="1126" cy="810" r="12" fill="#4A7BD3" stroke="#3D6CC6" stroke-width="1"/>
<circle cx="1179.6" cy="813" r="12" fill="#4A7BD3" stroke="#3D6CC6" stroke-width="1"/>
<circle cx="1231.6" cy="778" r="12" fill="#4A7BD3" stroke="#3D6CC6" stroke-width="1"/>
<circle cx="1285" cy="706.4" r="12" fill="#4A7BD3" stroke="#3D6CC6" stroke-width="1"/>
<circle cx="1338" cy="645.6" r="12" fill="#4A7BD3" stroke="#3D6CC6" stroke-width="1"/>
<line x1="930.3" y1="989.5" x2="1370" y2="640.9" stroke="#2F6BD8" stroke-width="2.6" stroke-dasharray="2.2,3.2"/>
<rect x="880.3" y="564.2" width="490.1" height="425.3" fill="none" stroke="#000" stroke-width="2.2"/>
<line x1="880.3" y1="883.2" x2="894" y2="883.2" stroke="#000" stroke-width="2"/>
<line x1="880.3" y1="776.9" x2="894" y2="776.9" stroke="#000" stroke-width="2"/>
<line x1="880.3" y1="670.5" x2="894" y2="670.5" stroke="#000" stroke-width="2"/>
<line x1="978.3" y1="989.5" x2="978.3" y2="976.5" stroke="#000" stroke-width="2"/>
<line x1="1076.3" y1="989.5" x2="1076.3" y2="976.5" stroke="#000" stroke-width="2"/>
<line x1="1174.4" y1="989.5" x2="1174.4" y2="976.5" stroke="#000" stroke-width="2"/>
<line x1="1272.4" y1="989.5" x2="1272.4" y2="976.5" stroke="#000" stroke-width="2"/>
<g class="sf" font-size="45" fill="#404040">
<text x="841" y="578.7" text-anchor="end">35</text>
<text x="841" y="685" text-anchor="end">30</text>
<text x="841" y="791.4" text-anchor="end">25</text>
<text x="841" y="897.7" text-anchor="end">20</text>
<text x="841" y="1004" text-anchor="end">15</text>
<text x="880.3" y="1056" text-anchor="middle" font-size="43">0.4</text>
<text x="978.3" y="1056" text-anchor="middle" font-size="43">0.5</text>
<text x="1076.3" y="1056" text-anchor="middle" font-size="43">0.6</text>
<text x="1174.4" y="1056" text-anchor="middle" font-size="43">0.7</text>
<text x="1272.4" y="1056" text-anchor="middle" font-size="43">0.8</text>
<text x="1370.4" y="1056" text-anchor="middle" font-size="43">0.9</text>
</g>
<g class="sf" font-size="45" fill="#000">
<text x="983" y="1104" font-style="italic">J</text>
<text x="1006.7" y="1114.3" font-size="32" textLength="61.9" lengthAdjust="spacingAndGlyphs">BiSb</text>
<text x="1074.4" y="1104.3" font-size="44" textLength="187.7" lengthAdjust="spacingAndGlyphs">(MA/cm²)</text>
<text x="933" y="670.3" font-style="italic">&#952;</text>
<text x="961.2" y="653.0" font-size="36" textLength="43.9" lengthAdjust="spacingAndGlyphs">eff</text>
<text x="957.2" y="682.0" font-size="35" textLength="42.5" lengthAdjust="spacingAndGlyphs">SH</text>
<rect x="1019.2" y="650.6" width="27.5" height="2.6" fill="#000"/><rect x="1019.2" y="660.6" width="27.5" height="2.6" fill="#000"/>
<text x="1063.8" y="670.3" font-size="46" textLength="57.9" lengthAdjust="spacingAndGlyphs">0.9</text>
</g>
<g transform="translate(762.5,854.9) rotate(-90)" class="sf" font-size="45" fill="#000">
<text x="0.5" y="0.0" font-size="46" font-style="italic" textLength="25.4" lengthAdjust="spacingAndGlyphs">H</text>
<text x="29.7" y="8.1" font-size="32.5" textLength="44.8" lengthAdjust="spacingAndGlyphs">AD</text>
<text x="80.1" y="0.0" font-size="45" textLength="82.7" lengthAdjust="spacingAndGlyphs">(0e)</text>
</g>
</g>
</svg></body></html>
